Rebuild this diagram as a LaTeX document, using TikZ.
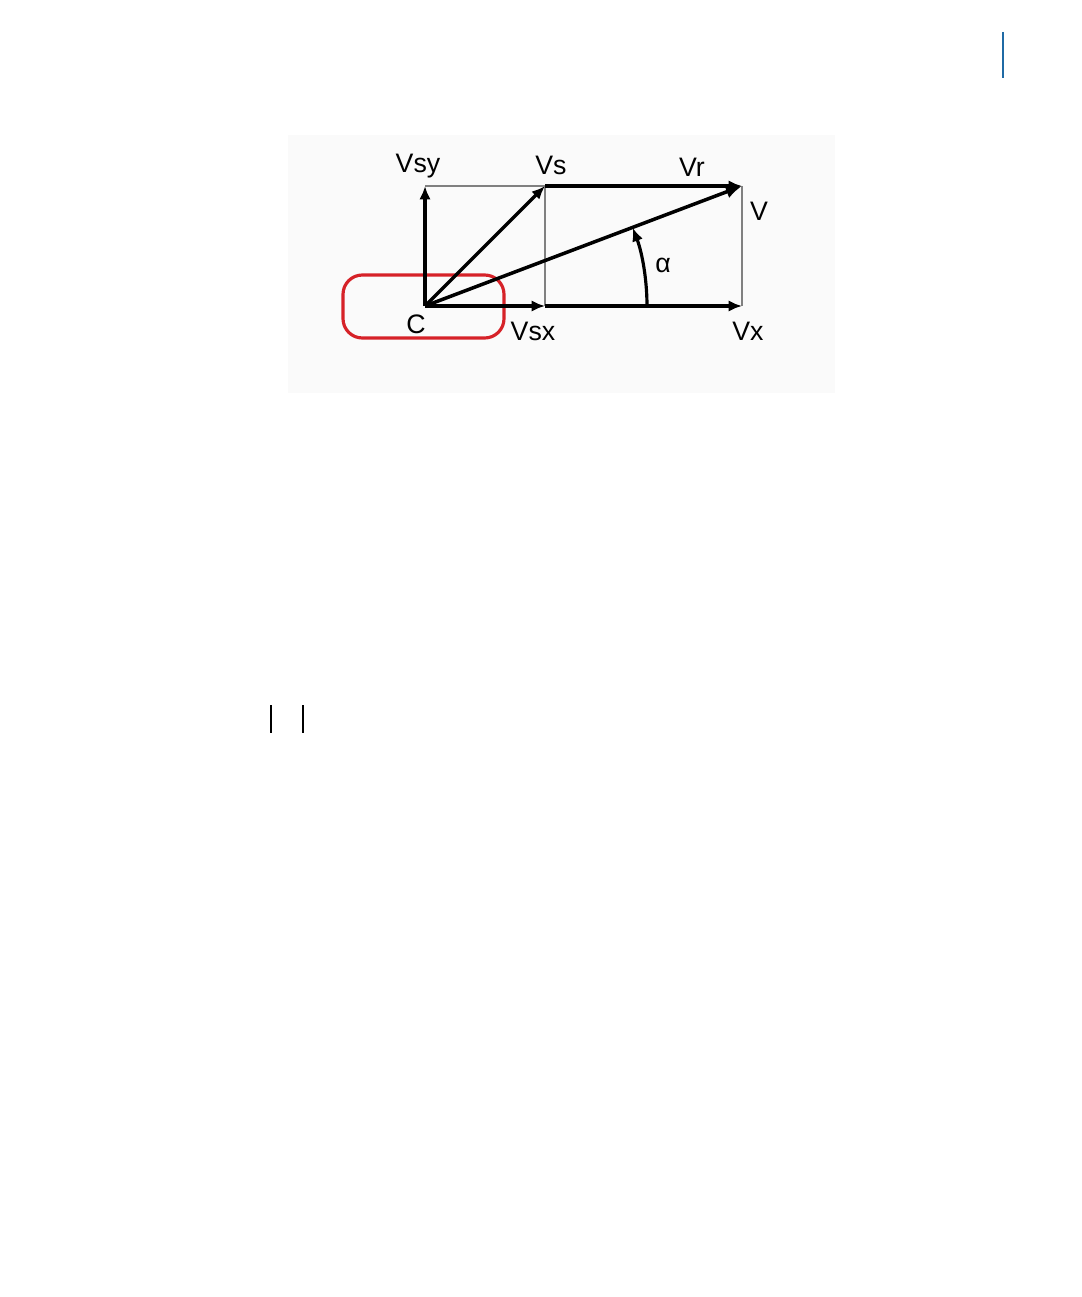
\documentclass[tikz,border=0pt]{standalone}
\usepackage{fontspec}
\setmainfont{Liberation Sans}
\usetikzlibrary{arrows.meta,positioning,calc}
\definecolor{boxred}{RGB}{214,34,40}
\definecolor{rulebl}{RGB}{31,106,165}
\definecolor{panel}{RGB}{250,250,250}

\begin{document}
\begin{tikzpicture} [x=0.01cm, y=-0.01cm, >={Latex[length=3.8pt,width=3.2pt]},
  vec/.style={->, line width=1pt},
  aux/.style={-, line width=0.3pt, color=black!50},
  lbl/.style={inner sep=1pt, font=\fontsize{7.6}{9}\selectfont}]
\useasboundingbox (0,0) rectangle (1081,1297);
\fill[panel] (288,135) rectangle (835,393);

\coordinate (C) at (425,306);
\coordinate (Vsy) at (425,186);
\coordinate (Vs) at (545,186);
\coordinate (V) at (742,186);
\coordinate (Vsx) at (545,306);
\coordinate (Vx) at (742,306);

\draw[aux] (Vsy) -- (Vs);
\draw[aux] (Vs) -- (Vsx);
\draw[aux] (V) -- (Vx);

\draw[rounded corners=5.5pt, line width=0.9pt, color=boxred] (343,275) rectangle (504,338);

\draw[vec] (C) -- (Vsy);
\draw[vec] (C) -- (Vs);
\draw[vec] (Vs) -- (V);
\draw[vec, >={Latex[length=4.6pt,width=3.8pt]}] (C) -- (V);
\draw[vec] (C) -- (Vsx);
\draw[vec] (Vsx) -- (Vx);
\draw[->, line width=0.9pt] ($(C)+(222,0)$) arc (0:-20.6:222);

\node[lbl] (lVsy) at (418,166) {Vsy};
\node[lbl] (lVs) at (551,165) {Vs};
\node[lbl] (lVr) at (692,167) {Vr};
\node[lbl] (lV) at (759,211) {V};
\node[lbl] (la) at (663,265) {α};
\node[lbl] (lC) at (416,324) {C};
\node[lbl] (lVsx) at (533,331) {Vsx};
\node[lbl] (lVx) at (748,331) {Vx};

% page marks
\draw[line width=0.6pt, color=rulebl] (1003,32) -- (1003,78);
\draw[line width=0.5pt] (271,705) -- (271,733);
\draw[line width=0.5pt] (303,705) -- (303,733);
\end{tikzpicture}
\end{document}
